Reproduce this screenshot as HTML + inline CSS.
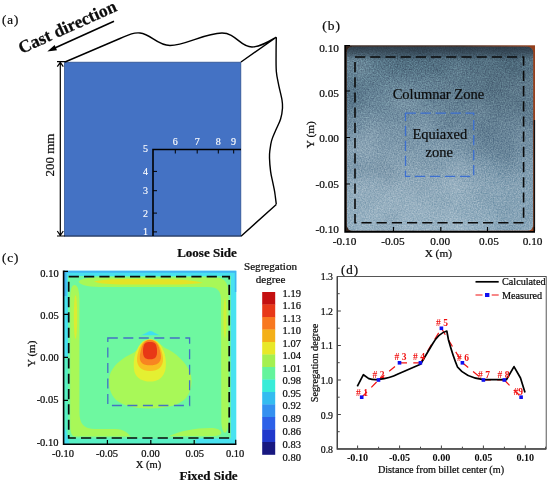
<!DOCTYPE html>
<html><head><meta charset="utf-8"><title>Figure</title>
<style>
html,body{margin:0;padding:0;background:#fff;}
body{width:550px;height:486px;overflow:hidden;}
svg{display:block;}
text{font-family:"Liberation Serif","Times New Roman",serif;fill:#0c0c0c;stroke:#0c0c0c;stroke-width:0.22px;}
.b{font-weight:bold;}.ns text{stroke:none;}
.tb{font-size:11.3px;}.tc{font-size:10.5px;}.td{font-size:10.2px;}.tk{font-size:9.8px;}
.w{fill:#fff;stroke:#fff;stroke-width:0.15px;font-size:10px;}
.r{fill:#f01010;stroke:none;font-weight:bold;font-size:9.5px;}
</style></head><body>
<svg width="550" height="486" viewBox="0 0 550 486">
<defs>
<filter id="noise" x="0" y="0" width="100%" height="100%" color-interpolation-filters="sRGB">
<feTurbulence type="fractalNoise" baseFrequency="0.75" numOctaves="2" seed="3" result="n"/>
<feColorMatrix in="n" type="matrix" values="0.36 0 0 0 0.32  0.36 0 0 0 0.32  0.36 0 0 0 0.32  0 0 0 0 1" result="g"/>
<feTurbulence type="fractalNoise" baseFrequency="0.025" numOctaves="2" seed="11" result="n2"/>
<feColorMatrix in="n2" type="matrix" values="0.36 0 0 0 0.32  0.36 0 0 0 0.32  0.36 0 0 0 0.32  0 0 0 0 1" result="g2"/>
<feBlend in="g" in2="SourceGraphic" mode="overlay" result="b1"/>
<feBlend in="g2" in2="b1" mode="soft-light" result="b2"/>
<feComposite in="b2" in2="SourceGraphic" operator="in"/>
</filter>
<linearGradient id="pg" x1="0" y1="0" x2="0" y2="1">
<stop offset="0" stop-color="#3d5263"/><stop offset="0.07" stop-color="#5c7a8c"/><stop offset="0.5" stop-color="#7390a4"/><stop offset="1" stop-color="#91adbf"/>
</linearGradient>
<linearGradient id="tg" x1="0" y1="0" x2="0" y2="1"><stop offset="0" stop-color="#2c3a46" stop-opacity="0.75"/><stop offset="0.5" stop-color="#2c3a46" stop-opacity="0.35"/><stop offset="1" stop-color="#2c3a46" stop-opacity="0"/></linearGradient>
<linearGradient id="rg" x1="0" y1="0" x2="1" y2="0"><stop offset="0" stop-color="#33231c"/><stop offset="0.6" stop-color="#3a2218"/><stop offset="1" stop-color="#96401c"/></linearGradient>
<radialGradient id="lg" cx="0.25" cy="0.8" r="0.55"><stop offset="0" stop-color="#fff" stop-opacity="0.14"/><stop offset="1" stop-color="#fff" stop-opacity="0"/></radialGradient>
<radialGradient id="dg" cx="0.85" cy="0.2" r="0.5"><stop offset="0" stop-color="#1c2a36" stop-opacity="0.16"/><stop offset="1" stop-color="#1c2a36" stop-opacity="0"/></radialGradient>
<filter id="soft"><feGaussianBlur stdDeviation="0.5"/></filter>
<clipPath id="cc"><rect x="64" y="270.7" width="172.3" height="173.5"/></clipPath>
</defs>
<rect width="550" height="486" fill="#fff"/>

<!-- ================= (a) ================= -->
<g id="pa">
<text x="2" y="24" font-size="13" letter-spacing="1">(a)</text>
<text class="b" font-size="17.6" transform="translate(21.5,54) rotate(-24.3)">Cast direction</text>
<line x1="114" y1="21.2" x2="52" y2="49.2" stroke="#000" stroke-width="1.6"/>
<path d="M47.3 51.4 L54.6 45 L57 50.2 Z" fill="#000"/>
<rect x="64.6" y="62.2" width="176.2" height="173.7" fill="#4472c4" stroke="#2f528f" stroke-width="0.8"/>
<path d="M65 62 L120 38.5 C130 34 134 32.5 140 33 C151 34 157 45.5 170 45.5 C185 45.5 205 33 222 33 C236 33 240 47 252 47 C260 47 268 42 276.3 37.2 L241 62 M241 236.2 L276.3 204.4" fill="none" stroke="#000" stroke-width="1.4"/>
<path d="M64.5 236.1 H241" stroke="#1a2e55" stroke-width="1" fill="none"/>
<path d="M276.3 37.2 C276.3 39.4 276.1 44.9 276.1 50.6 C276.1 56.3 275.9 65.4 276.3 71.2 C276.8 77.0 277.9 80.8 278.8 85.6 C279.8 90.4 281.4 96.3 282.0 100.0 C282.6 103.7 282.7 104.8 282.5 108.0 C282.3 111.2 281.7 115.3 280.6 119.0 C279.5 122.7 277.2 126.7 275.7 130.3 C274.2 133.9 272.6 137.2 271.6 140.6 C270.6 144.0 270.2 148.1 269.8 151.0 C269.4 153.9 269.4 154.6 269.5 158.0 C269.6 161.4 270.1 167.5 270.6 171.4 C271.1 175.3 271.9 178.3 272.6 181.7 C273.3 185.1 274.1 188.2 274.7 192.0 C275.3 195.8 276.0 202.3 276.3 204.4" fill="none" stroke="#000" stroke-width="1.4"/>
<path d="M57 61.7 H65 M57 236 H65 M60.3 62 V235.7 M57.3 66.7 L60.3 62.3 L63.3 66.7 M57.3 231 L60.3 235.5 L63.3 231" fill="none" stroke="#000" stroke-width="1.2"/>
<text font-size="13" transform="translate(54,176.5) rotate(-90)">200 mm</text>
<path d="M153 236 V149.5 H241" fill="none" stroke="#000" stroke-width="1.6"/>
<path d="M175.3 149.5 v4 M197.2 149.5 v4 M218.3 149.5 v4 M233.7 149.5 v4 M153 171.4 h4 M153 190.7 h4 M153 213.1 h4 M153 231.9 h4" stroke="#000" stroke-width="1" fill="none"/>
<g class="w" text-anchor="middle">
<text class="w" x="145.5" y="151.5">5</text>
<text class="w" x="145.5" y="175">4</text>
<text class="w" x="145.5" y="194.3">3</text>
<text class="w" x="145.5" y="217">2</text>
<text class="w" x="145.5" y="235">1</text>
<text class="w" x="175.3" y="145">6</text>
<text class="w" x="197.2" y="145">7</text>
<text class="w" x="218.3" y="145">8</text>
<text class="w" x="233.5" y="145">9</text>
</g>
</g>

<!-- ================= (b) ================= -->
<g id="pb">
<text x="322.3" y="30" font-size="13.5" letter-spacing="1">(b)</text>
<rect x="346" y="45.3" width="189" height="186" fill="url(#rg)"/>
<rect x="346.8" y="46.8" width="186.4" height="184" rx="5.5" fill="url(#pg)" filter="url(#noise)"/>
<rect x="346.8" y="46.8" width="186.4" height="14" rx="5.5" fill="url(#tg)"/>
<rect x="346.8" y="46.8" width="186.4" height="184" rx="5.5" fill="url(#lg)"/>
<rect x="346.8" y="46.8" width="186.4" height="184" rx="5.5" fill="url(#dg)"/>
<path d="M534.4 120 V231" stroke="#111" stroke-width="1.4" fill="none"/>
<path d="M345.2 45 V231.8 H535" fill="none" stroke="#000" stroke-width="1.8"/>
<path d="M346 45.5 h4 M346 91 h4 M346 137.5 h4 M346 184 h4 M393.5 231 v-4 M440.8 231 v-4 M487.5 231 v-4 M534.3 231 v-4" stroke="#000" stroke-width="1.2"/>
<rect x="355" y="57" width="168.6" height="165.8" fill="none" stroke="#0a0a0a" stroke-width="1.6" stroke-dasharray="10.2 5"/>
<rect x="405.5" y="113.1" width="68.2" height="63.3" fill="none" stroke="#3c6fd0" stroke-width="1.3" stroke-dasharray="10.3 4.7"/>
<text x="438.4" y="98.5" font-size="14.5" text-anchor="middle">Columnar Zone</text>
<text x="439.8" y="139.4" font-size="14.5" text-anchor="middle">Equiaxed</text>
<text x="439.3" y="157.2" font-size="14.5" text-anchor="middle">zone</text>
<g class="tb" text-anchor="end">
<text x="339" y="51.7">0.10</text><text x="339" y="97.1">0.05</text><text x="339" y="142.4">0.00</text><text x="339" y="187.6">-0.05</text><text x="339" y="233.2">-0.10</text>
</g>
<g class="tb" text-anchor="middle">
<text x="344.6" y="245.4">-0.10</text><text x="392.9" y="245.4">-0.05</text><text x="440.2" y="245.4">0.00</text><text x="489" y="245.4">0.05</text><text x="532.6" y="245.4">0.10</text>
<text x="438.3" y="257">X (m)</text>
</g>
<text class="tb" transform="translate(313.5,134.7) rotate(-90)" text-anchor="middle">Y (m)</text>
</g>

<!-- ================= (c) ================= -->
<g id="pc">
<text x="2" y="262" font-size="13" letter-spacing="1">(c)</text>
<text class="b" x="177.2" y="257.4" font-size="13">Loose Side</text>
<text class="b" x="179.5" y="480" font-size="13">Fixed Side</text>
<g clip-path="url(#cc)">
<rect x="63" y="270" width="175" height="175" fill="#48e2f0"/>
<g filter="url(#soft)">
<path d="M64 270 H237 V272.7 H66.6 V296 H64 Z M234.8 272.7 H237 V292 H234.8 Z" fill="#40b4f2"/>
<path d="M64 358 H69 V425 L75 438 H196 V445 H70 L64 425 Z" fill="#58f0c4"/>
<rect x="68" y="276" width="162.8" height="162.3" fill="#6ef8a0"/>
<!-- top + right strip -->
<path d="M78.5 281.8 C81 278 90 277.3 105 277.3 L214 277.3 C223 277.3 228 281 228.6 292 L228.6 420 C228.6 428 227 432 225 433 C223 432 221.3 428 221.3 420 L221 300 C221 291 218 287 208 287 L105 287 C90 287 81 286 78.5 281.8 Z" fill="#a8f858"/>
<!-- left strip + bottom-left lobe -->
<path d="M74.5 285 C77.5 285 79.4 290 79.4 300 L79.4 412 C79.4 424 84 429 95 429 L115 429 C125 429 128 434 131 436.5 L75 436.5 C71.5 436.5 70.2 432 70.2 425 L70.2 300 C70.2 290 71.5 285 74.5 285 Z" fill="#a8f858"/>
<!-- bottom-right lobe -->
<path d="M168.5 436.3 C180 431 195 428 210 428 C217 428 221 430 221.3 432.5 C221.3 435 218 436.3 210 436.3 Z" fill="#a8f858"/>
<path d="M94 281.8 C100 279.8 112 279 130 279 L170 279.2 C185 279.6 196 281 203 282.8 C196 284 185 284.6 168 284.6 L125 284.6 C110 284.6 99 283.5 94 281.8 Z" fill="#e4e428"/>
<ellipse cx="75.5" cy="317" rx="1.7" ry="22" fill="#dcec30"/>
<ellipse cx="225" cy="318" rx="1.5" ry="20" fill="#d0f038"/>
<!-- centre bell -->
<path d="M150 339 C156 339 160 344 165 348 C175 352 186 362 190.5 373 C193 382 191 392 186 398 C180 405 166 408.5 150 408.5 C134 408.5 122 405 116 400 C110 394 108 385 109.5 376 C112 366 122 358 134 352.5 C139 349 144 339 150 339 Z" fill="#a8f858"/>
<path d="M150 339.5 C158 339.5 161 345 164 352 C166 358 166.5 366 165 371 C162.5 379 157 381.5 150 381.5 C143 381.5 137 379 134.5 372 C133 366 133.5 358 136 352 C139 345 142 339.5 150 339.5 Z" fill="#e4f030"/>
<path d="M150 339.5 C158 339.5 161.5 348 163 358 C163.5 367 158 371 150 371 C142 371 136.5 367 137 358 C138.5 348 142 339.5 150 339.5 Z" fill="#f8c020"/>
<path d="M150 340 C157.5 340 160 348 161 356 C161 363 157 365.3 150 365.3 C143 365.3 139.5 363 139.8 356 C141 348 142.5 340 150 340 Z" fill="#f88420"/>
<path d="M150 342 C154.5 342 156.6 343.5 157 350 C157.3 357 155.5 359.3 150 359.3 C144.5 359.3 142.8 357 143 350 C143.4 343.5 145.5 342 150 342 Z" fill="#e83818"/>
<path d="M140.5 335.2 C146 334 148 331 150.5 331 C153 331 155 334 160.5 335.2 Z" fill="#40e0ee"/>
</g>
</g>
<rect x="68.7" y="276.6" width="160.5" height="161.4" fill="none" stroke="#0a0a0a" stroke-width="1.7" stroke-dasharray="10.2 5.13"/>
<rect x="107.8" y="338" width="81.8" height="67.5" fill="none" stroke="#4472c4" stroke-width="1.3" stroke-dasharray="10 5.5"/>
<path d="M63.6 270.5 V444.2 H236.3" fill="none" stroke="#000" stroke-width="1.6"/>
<path d="M64 271.3 h4 M64 314.3 h4 M64 357.3 h4 M64 400.3 h4 M107.4 444 v-4 M150.8 444 v-4 M194.2 444 v-4 M235.7 444.8 v-5" stroke="#000" stroke-width="1.2"/>
<g class="tc" text-anchor="end">
<text x="58.7" y="276.5">0.10</text><text x="58.7" y="318.5">0.05</text><text x="58.7" y="361.2">0.00</text><text x="58.5" y="403.3">-0.05</text><text x="58.5" y="445.6">-0.10</text>
</g>
<g class="tc" text-anchor="middle">
<text x="63" y="457.3">-0.10</text><text x="107" y="457.3">-0.05</text><text x="150.5" y="457.3">0.00</text><text x="194.7" y="457.3">0.05</text><text x="235.1" y="457.3">0.10</text>
<text x="148.5" y="468.2">X (m)</text>
</g>
<text class="tc" transform="translate(35,353.8) rotate(-90)" text-anchor="middle" style="font-size:11px">Y (m)</text>
<!-- colourbar -->
<text class="tc" x="270.5" y="269.8" text-anchor="middle" style="font-size:11.1px">Segregation</text>
<text class="tc" x="270.6" y="283.1" text-anchor="middle" style="font-size:11.1px">degree</text>
<g>
<rect x="262.2" y="292.0" width="13" height="12.8" fill="#c41010"/>
<rect x="262.2" y="304.5" width="13" height="12.8" fill="#e83818"/>
<rect x="262.2" y="317.0" width="13" height="12.8" fill="#f87820"/>
<rect x="262.2" y="329.5" width="13" height="12.8" fill="#f4b018"/>
<rect x="262.2" y="342.0" width="13" height="12.8" fill="#e8e828"/>
<rect x="262.2" y="354.5" width="13" height="12.8" fill="#a4f050"/>
<rect x="262.2" y="367.0" width="13" height="12.8" fill="#64f49c"/>
<rect x="262.2" y="379.5" width="13" height="12.8" fill="#38ecd8"/>
<rect x="262.2" y="392.0" width="13" height="12.8" fill="#34bcf0"/>
<rect x="262.2" y="404.5" width="13" height="12.8" fill="#3490f0"/>
<rect x="262.2" y="417.0" width="13" height="12.8" fill="#2c60e8"/>
<rect x="262.2" y="429.5" width="13" height="12.8" fill="#2038cc"/>
<rect x="262.2" y="442.0" width="13" height="12.8" fill="#181880"/>
</g>
<g class="tc" font-size="10.6">
<text x="282.5" y="296.5">1.19</text><text x="282.5" y="309.4">1.16</text><text x="282.5" y="322.4">1.13</text><text x="282.5" y="333.5">1.10</text><text x="282.5" y="346.8">1.07</text><text x="282.5" y="359.2">1.04</text><text x="282.5" y="371.8">1.01</text><text x="282.5" y="384.2">0.98</text><text x="282.5" y="396.8">0.95</text><text x="282.5" y="409.4">0.92</text><text x="282.5" y="422.2">0.89</text><text x="282.5" y="434.7">0.86</text><text x="282.5" y="448.0">0.83</text><text x="282.5" y="460.6">0.80</text>
</g>
</g>

<!-- ================= (d) ================= -->
<g id="pd">
<text x="341" y="274" font-size="13" letter-spacing="1">(d)</text>
<rect x="337.3" y="276.5" width="208.9" height="172.4" fill="none" stroke="#444" stroke-width="0.9"/>
<path d="M337.3 276.5 V449 H546.2" fill="none" stroke="#444" stroke-width="1.4"/>
<path d="M338 311.0 h2.9 M338 345.5 h2.9 M338 380.0 h2.9 M338 414.5 h2.9 M338 293.7 h1.7 M338 328.2 h1.7 M338 362.7 h1.7 M338 397.2 h1.7 M338 431.7 h1.7 M357.6 448.4 v-2.9 M399.6 448.4 v-2.9 M441.4 448.4 v-2.9 M483.4 448.4 v-2.9 M525.3 448.4 v-2.9 M378.6 448.4 v-1.7 M420.5 448.4 v-1.7 M462.4 448.4 v-1.7 M504.4 448.4 v-1.7 M545.6 448.4 v-1.7" stroke="#444" stroke-width="1"/>
<g class="tk" text-anchor="end">
<text x="333" y="279.8">1.3</text><text x="333" y="314.5">1.2</text><text x="333" y="349.2">1.1</text><text x="333" y="383.9">1.0</text><text x="333" y="418.6">0.9</text><text x="333" y="453.2">0.8</text>
</g>
<g class="td" text-anchor="middle">
<g class="b ns"><text x="357.6" y="461">-0.10</text><text x="399.5" y="461">-0.05</text><text x="441.4" y="461">0.00</text><text x="483.4" y="461">0.05</text><text x="525.3" y="461">0.10</text></g>
<text x="441" y="472.6">Distance from billet center (m)</text>
</g>
<text class="td" transform="translate(318,363) rotate(-90)" text-anchor="middle">Segregation degree</text>
<!-- measured -->
<g fill="none" stroke="#f01010" stroke-width="1.2" stroke-dasharray="7.5 6.3">
<path d="M361.7 397.2 L378.5 380.0"/><path d="M378.5 380.0 L399.5 362.8"/><path d="M399.5 362.8 L420.4 362.8"/><path d="M420.4 362.8 L441.4 328.3"/><path d="M441.4 328.3 L462.4 362.8"/><path d="M462.4 362.8 L483.4 380.0"/><path d="M483.4 380.0 L504.3 380.0"/><path d="M504.3 380.0 L521.1 397.2"/>
</g>
<!-- calculated -->
<path d="M357.3 386.3 L363.4 374.7 L368.8 378.6 C372 379.6 376 379.7 379 379.3 C386 378.6 392 377 398 374 L420.5 364.2 L432.5 344 C436 338 441 332.5 446.8 331 L448.5 340 C451 349 455 361 457.5 367 C462 373 470 378 483.5 379.7 L506.4 379.7 L514 366.6 L520.5 378 L525 392.4" fill="none" stroke="#000" stroke-width="1.7" stroke-linejoin="round"/>
<g fill="#1010f0">
<rect x="359.9" y="395.4" width="3.6" height="3.6"/><rect x="376.7" y="378.2" width="3.6" height="3.6"/><rect x="397.7" y="361.0" width="3.6" height="3.6"/><rect x="418.6" y="361.0" width="3.6" height="3.6"/><rect x="439.6" y="326.5" width="3.6" height="3.6"/><rect x="460.6" y="361.0" width="3.6" height="3.6"/><rect x="481.6" y="378.2" width="3.6" height="3.6"/><rect x="502.5" y="378.2" width="3.6" height="3.6"/><rect x="519.3" y="395.4" width="3.6" height="3.6"/>
</g>
<g class="r">
<text class="r" x="356" y="396"># 1</text><text class="r" x="372.5" y="377.5"># 2</text><text class="r" x="394.5" y="360"># 3</text><text class="r" x="413" y="360"># 4</text><text class="r" x="436" y="326"># 5</text><text class="r" x="457" y="361"># 6</text><text class="r" x="478" y="377.5"># 7</text><text class="r" x="497.5" y="377.5"># 8</text><text class="r" x="513.5" y="395">#9</text>
</g>
<line x1="475.5" y1="281.8" x2="498.7" y2="281.8" stroke="#000" stroke-width="1.7"/>
<line x1="475.5" y1="295" x2="498.7" y2="295" stroke="#f01010" stroke-width="1.2" stroke-dasharray="7 9.2"/>
<rect x="485" y="293" width="4.4" height="4" fill="#1010f0"/>
<text class="td" x="502" y="285.3" font-size="10.1">Calculated</text>
<text class="td" x="502" y="298.5" font-size="10.1">Measured</text>
</g>
</svg>
</body></html>
